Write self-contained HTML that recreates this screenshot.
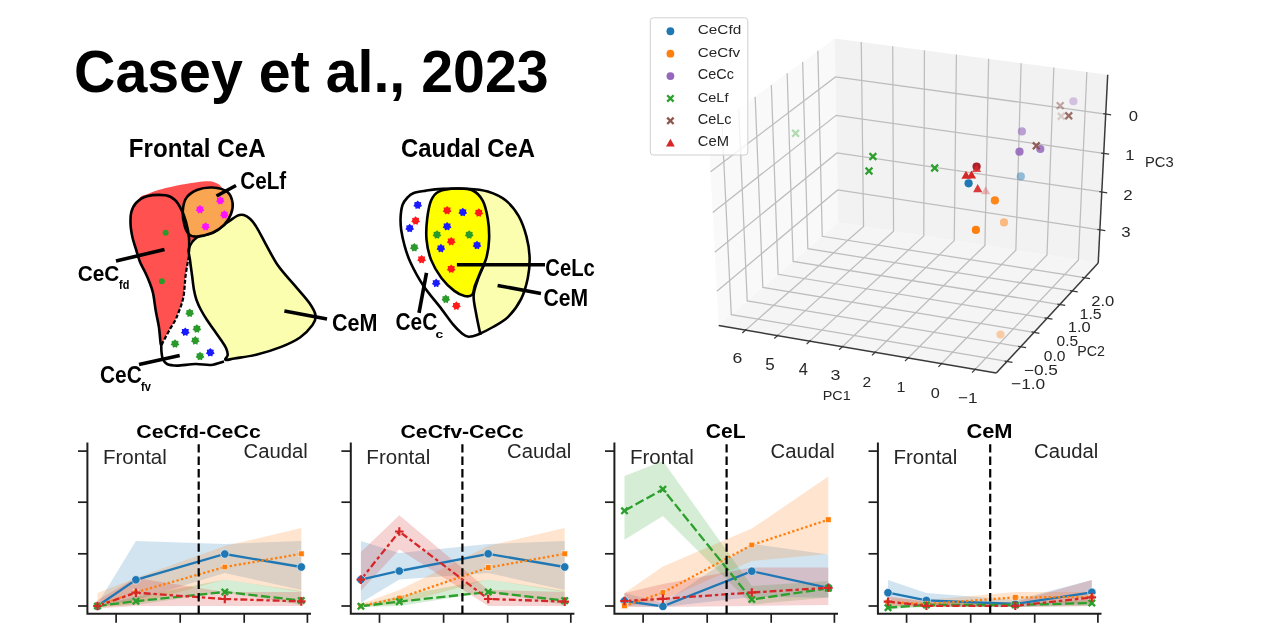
<!DOCTYPE html>
<html><head><meta charset="utf-8"><style>
html,body{margin:0;padding:0;background:#fff;width:1280px;height:640px;overflow:hidden}
#t{will-change:transform;position:absolute;left:74.2px;top:42.2px;font:bold 57.3px/1 "Liberation Sans",sans-serif;white-space:nowrap;transform:scaleY(1.0375);transform-origin:0 0;color:#000}
svg{position:absolute;left:0;top:0;will-change:transform}
svg text{font-family:"Liberation Sans",sans-serif}
</style></head><body>
<div id="t">Casey et al., 2023</div>
<svg width="1280" height="640" viewBox="0 0 1280 640">
<path d="M138.0,203.0 C138.0,195.2 143.8,195.8 150.0,193.0 C156.2,190.2 166.2,187.9 175.0,186.0 C183.8,184.1 196.3,182.1 203.0,181.5 C209.7,180.9 211.8,181.4 215.0,182.5 C218.2,183.6 220.2,185.1 222.0,188.0 C223.8,190.9 229.7,191.7 226.0,200.0 C222.3,208.3 212.7,231.3 200.0,238.0 C187.3,244.7 160.3,245.8 150.0,240.0 C139.7,234.2 138.0,210.8 138.0,203.0 Z" fill="#FE5150"/>
<path d="M161.2,350.0 C160.6,350.5 160.9,346.3 160.5,342.5 C160.1,338.7 159.7,332.2 158.9,327.0 C158.1,321.8 156.8,316.7 155.8,311.0 C154.8,305.3 154.1,298.0 153.0,293.0 C151.9,288.0 150.3,284.5 149.0,281.0 C147.7,277.5 146.5,275.2 145.0,272.0 C143.5,268.8 141.5,265.7 140.0,262.0 C138.5,258.3 137.5,254.1 136.2,250.0 C135.0,245.9 133.4,241.7 132.5,237.5 C131.6,233.3 130.8,229.2 130.6,225.0 C130.4,220.8 130.3,216.2 131.2,212.5 C132.2,208.8 133.4,205.7 136.0,203.0 C138.6,200.3 142.0,197.5 146.9,196.2 C151.8,195.0 160.9,194.7 165.6,195.3 C170.3,195.9 172.4,197.7 175.0,200.0 C177.6,202.3 179.4,205.8 181.2,209.4 C183.1,213.1 184.7,217.2 186.0,221.9 C187.3,226.6 188.5,231.8 189.0,237.5 C189.5,243.2 189.3,251.4 189.0,256.0 C188.7,260.6 187.8,261.8 187.2,265.3 C186.6,268.9 185.8,273.9 185.4,277.3 C185.0,280.8 185.0,282.9 184.7,286.0 C184.4,289.1 184.1,292.9 183.6,296.0 C183.1,299.1 182.3,301.8 181.4,304.7 C180.5,307.6 179.1,310.9 178.1,313.5 C177.1,316.1 176.8,317.4 175.4,320.0 C174.1,322.6 171.8,325.8 170.0,329.0 C168.2,332.2 165.9,335.9 164.4,339.4 C162.9,342.9 161.9,349.5 161.2,350.0 Z" fill="#FE5150"/>
<path d="M161.2,345.6 C160.8,347.7 161.2,349.8 161.5,352.0 C161.8,354.2 161.9,357.0 162.8,359.0 C163.7,361.0 164.7,362.9 167.0,364.0 C169.3,365.1 172.1,365.6 176.9,365.6 C181.7,365.6 189.9,364.1 195.6,364.0 C201.3,363.9 206.3,365.5 211.0,365.0 C215.7,364.5 221.0,362.9 223.8,361.2 C226.5,359.6 227.3,357.2 227.7,355.0 C228.1,352.8 227.1,350.5 226.0,348.0 C224.9,345.5 223.0,343.0 221.0,340.0 C219.0,337.0 216.3,333.3 214.0,330.0 C211.7,326.7 209.2,323.3 207.0,320.0 C204.8,316.7 202.8,313.3 201.0,310.0 C199.2,306.7 197.7,303.3 196.5,300.0 C195.3,296.7 194.8,294.2 194.0,290.0 C193.2,285.8 192.7,280.0 192.0,275.0 C191.3,270.0 190.5,263.2 190.0,260.0 C189.5,256.8 189.5,255.1 189.0,256.0 C188.5,256.9 187.8,261.8 187.2,265.3 C186.6,268.9 185.8,273.9 185.4,277.3 C185.0,280.8 185.0,282.9 184.7,286.0 C184.4,289.1 184.1,292.9 183.6,296.0 C183.1,299.1 182.3,301.8 181.4,304.7 C180.5,307.6 179.1,310.9 178.1,313.5 C177.1,316.1 176.8,317.4 175.4,320.0 C174.1,322.6 171.8,325.8 170.0,329.0 C168.2,332.2 165.9,336.6 164.4,339.4 C162.9,342.2 161.7,343.5 161.2,345.6 Z" fill="#fff"/>
<path d="M189.0,248.4 C190.2,244.7 193.0,240.1 196.9,237.5 C200.8,234.9 207.3,235.4 212.5,232.8 C217.7,230.2 223.8,224.9 228.0,222.0 C232.2,219.1 234.9,216.8 237.5,215.6 C240.1,214.4 241.7,214.5 243.8,215.0 C245.8,215.5 247.9,216.8 250.0,218.8 C252.1,220.7 253.7,222.4 256.2,226.6 C258.9,230.8 262.0,237.2 265.6,243.8 C269.2,250.2 273.3,258.8 278.0,265.6 C282.7,272.4 288.5,278.2 293.8,284.4 C299.0,290.6 305.8,297.8 309.4,303.0 C313.0,308.2 315.1,311.9 315.6,315.6 C316.1,319.3 315.1,321.4 312.5,325.0 C309.9,328.6 305.2,333.9 300.0,337.5 C294.8,341.1 288.5,344.0 281.2,346.9 C274.0,349.8 264.1,352.8 256.2,354.7 C248.4,356.6 239.5,357.6 234.4,358.5 C229.3,359.4 226.6,360.4 225.5,359.8 C224.4,359.2 227.6,357.0 227.7,355.0 C227.8,353.0 227.1,350.5 226.0,348.0 C224.9,345.5 223.0,343.0 221.0,340.0 C219.0,337.0 216.3,333.3 214.0,330.0 C211.7,326.7 209.2,323.3 207.0,320.0 C204.8,316.7 202.8,313.3 201.0,310.0 C199.2,306.7 197.7,303.3 196.5,300.0 C195.3,296.7 194.8,294.2 194.0,290.0 C193.2,285.8 192.7,280.0 192.0,275.0 C191.3,270.0 190.5,264.4 190.0,260.0 C189.5,255.6 187.8,252.2 189.0,248.4 Z" fill="#FAFEAE" stroke="#000" stroke-width="2.6"/>
<path d="M182.8,211.0 C183.1,206.6 183.7,201.9 186.0,198.4 C188.3,194.9 192.5,191.8 196.9,190.0 C201.3,188.2 207.4,187.2 212.5,187.5 C217.6,187.8 224.2,189.4 227.5,192.0 C230.8,194.6 232.0,199.3 232.6,203.0 C233.2,206.7 232.4,210.3 231.0,214.0 C229.6,217.7 227.1,221.9 224.0,225.0 C220.9,228.1 217.0,230.9 212.5,232.8 C208.0,234.7 200.8,236.3 196.9,236.6 C193.0,236.9 191.1,236.3 189.0,234.4 C186.9,232.5 185.4,228.9 184.4,225.0 C183.4,221.1 182.5,215.4 182.8,211.0 Z" fill="#F9A552" stroke="#000" stroke-width="2.6"/>
<path d="M224.0,361.5 C221.8,362.1 215.7,364.6 211.0,365.0 C206.3,365.4 201.3,363.9 195.6,364.0 C189.9,364.1 181.7,365.6 176.9,365.6 C172.1,365.6 169.3,365.1 167.0,364.0 C164.7,362.9 163.7,361.0 162.8,359.0 C161.9,357.0 161.8,354.2 161.5,352.0 C161.2,349.8 161.4,347.2 161.2,345.6 C161.1,344.0 160.9,345.6 160.5,342.5 C160.1,339.4 159.7,332.2 158.9,327.0 C158.1,321.8 156.8,316.7 155.8,311.0 C154.8,305.3 154.1,298.0 153.0,293.0 C151.9,288.0 150.3,284.5 149.0,281.0 C147.7,277.5 146.5,275.2 145.0,272.0 C143.5,268.8 141.5,265.7 140.0,262.0 C138.5,258.3 137.5,254.1 136.2,250.0 C135.0,245.9 133.4,241.7 132.5,237.5 C131.6,233.3 130.8,229.2 130.6,225.0 C130.4,220.8 130.3,216.2 131.2,212.5 C132.2,208.8 133.4,205.7 136.0,203.0 C138.6,200.3 142.0,197.5 146.9,196.2 C151.8,195.0 160.9,194.7 165.6,195.3 C170.3,195.9 172.4,197.7 175.0,200.0 C177.6,202.3 179.4,205.8 181.2,209.4 C183.1,213.1 184.7,217.2 186.0,221.9 C187.3,226.6 188.5,232.5 189.0,237.5 C189.5,242.5 189.0,249.6 189.0,252.0" fill="none" stroke="#000" stroke-width="2.6"/>
<path d="M189.0,256.0 C188.7,257.6 187.8,261.8 187.2,265.3 C186.6,268.9 185.8,273.9 185.4,277.3 C185.0,280.8 185.0,282.9 184.7,286.0 C184.4,289.1 184.1,292.9 183.6,296.0 C183.1,299.1 182.3,301.8 181.4,304.7 C180.5,307.6 179.1,310.9 178.1,313.5 C177.1,316.1 176.8,317.4 175.4,320.0 C174.1,322.6 171.8,325.8 170.0,329.0 C168.2,332.2 165.9,336.6 164.4,339.4 C162.9,342.2 161.8,344.6 161.2,345.6" fill="none" stroke="#000" stroke-width="2.2" stroke-dasharray="4.2,1.8"/>
<circle cx="165.6" cy="232.8" r="3" fill="#2a9a2a"/>
<circle cx="161.9" cy="281.25" r="3" fill="#2a9a2a"/>
<polygon points="200.0,205.0 201.4,206.5 203.4,206.7 203.1,208.7 204.3,210.4 202.5,211.4 201.9,213.4 200.0,212.6 198.1,213.4 197.5,211.4 195.7,210.4 196.9,208.7 196.6,206.7 198.6,206.5" fill="#ff10ff"/>
<polygon points="220.3,196.2 221.7,197.7 223.7,197.9 223.4,199.9 224.6,201.6 222.8,202.6 222.2,204.6 220.3,203.8 218.4,204.6 217.8,202.6 216.0,201.6 217.2,199.9 216.9,197.9 218.9,197.7" fill="#ff10ff"/>
<polygon points="224.4,210.3 225.8,211.8 227.8,212.0 227.5,214.0 228.7,215.7 226.9,216.7 226.3,218.7 224.4,217.9 222.5,218.7 221.9,216.7 220.1,215.7 221.3,214.0 221.0,212.0 223.0,211.8" fill="#ff10ff"/>
<polygon points="205.6,222.2 207.0,223.7 209.0,223.9 208.7,225.9 209.9,227.6 208.1,228.6 207.5,230.6 205.6,229.8 203.7,230.6 203.1,228.6 201.3,227.6 202.5,225.9 202.2,223.9 204.2,223.7" fill="#ff10ff"/>
<polygon points="189.7,308.5 191.1,310.1 193.2,310.2 192.9,312.3 194.1,314.0 192.2,315.0 191.7,317.1 189.7,316.2 187.7,317.1 187.2,315.0 185.3,314.0 186.5,312.3 186.2,310.2 188.3,310.1" fill="#2a9a2a"/>
<polygon points="196.9,324.2 198.3,325.8 200.4,325.9 200.1,328.0 201.3,329.8 199.4,330.8 198.9,332.8 196.9,332.0 194.9,332.8 194.4,330.8 192.5,329.8 193.7,328.0 193.4,325.9 195.5,325.8" fill="#2a9a2a"/>
<polygon points="185.3,327.4 186.7,329.0 188.8,329.1 188.5,331.2 189.7,332.9 187.8,333.9 187.3,336.0 185.3,335.1 183.3,336.0 182.8,333.9 180.9,332.9 182.1,331.2 181.8,329.1 183.9,329.0" fill="#1a1aff"/>
<polygon points="195.3,336.1 196.7,337.7 198.8,337.8 198.5,339.9 199.7,341.6 197.8,342.6 197.3,344.7 195.3,343.8 193.3,344.7 192.8,342.6 190.9,341.6 192.1,339.9 191.8,337.8 193.9,337.7" fill="#2a9a2a"/>
<polygon points="175.0,339.2 176.4,340.8 178.5,340.9 178.2,343.0 179.4,344.8 177.5,345.8 177.0,347.8 175.0,347.0 173.0,347.8 172.5,345.8 170.6,344.8 171.8,343.0 171.5,340.9 173.6,340.8" fill="#2a9a2a"/>
<polygon points="210.3,348.0 211.7,349.6 213.8,349.7 213.5,351.8 214.7,353.5 212.8,354.5 212.3,356.6 210.3,355.7 208.3,356.6 207.8,354.5 205.9,353.5 207.1,351.8 206.8,349.7 208.9,349.6" fill="#1a1aff"/>
<polygon points="200.0,351.8 201.4,353.3 203.5,353.4 203.2,355.5 204.4,357.3 202.5,358.3 202.0,360.3 200.0,359.5 198.0,360.3 197.5,358.3 195.6,357.3 196.8,355.5 196.5,353.4 198.6,353.3" fill="#2a9a2a"/>
<line x1="216.5" y1="196" x2="236" y2="185.5" stroke="#000" stroke-width="3.6"/>
<line x1="116" y1="261" x2="164.5" y2="249.5" stroke="#000" stroke-width="3.6"/>
<line x1="139" y1="364.5" x2="179.7" y2="355.6" stroke="#000" stroke-width="3.6"/>
<line x1="284.4" y1="311" x2="327" y2="319" stroke="#000" stroke-width="3.6"/>
<text transform="translate(128.73,157.00) scale(0.9625,1)" font-size="25.10" font-weight="bold" fill="#000" >Frontal CeA</text>
<text transform="translate(240.37,188.80) scale(0.8803,1)" font-size="23.45" font-weight="bold" fill="#000" >CeLf</text>
<text transform="translate(77.77,280.50) scale(0.9089,1)" font-size="22.86" font-weight="bold" fill="#000" >CeC</text>
<text transform="translate(119.04,288.70) scale(0.9056,1)" font-size="12.00" font-weight="bold" fill="#000" >fd</text>
<text transform="translate(100.07,382.50) scale(0.8983,1)" font-size="23.21" font-weight="bold" fill="#000" >CeC</text>
<text transform="translate(141.08,390.60) scale(0.9243,1)" font-size="12.00" font-weight="bold" fill="#000" >fv</text>
<text transform="translate(331.94,330.70) scale(0.8769,1)" font-size="24.57" font-weight="bold" fill="#000" >CeM</text>
<path d="M402.5,205.0 C403.6,201.7 405.6,199.5 407.5,197.5 C409.4,195.5 410.6,194.2 413.8,193.0 C416.9,191.8 421.5,191.3 426.2,190.6 C431.0,189.9 435.7,189.2 442.5,188.9 C449.3,188.6 459.6,188.4 467.2,188.8 C474.8,189.2 481.4,189.6 487.8,191.6 C494.2,193.6 500.8,196.5 505.9,200.6 C511.0,204.7 515.3,210.1 518.7,216.1 C522.1,222.1 524.7,229.8 526.5,236.7 C528.3,243.6 529.4,250.4 529.6,257.3 C529.8,264.2 529.2,271.1 527.8,278.0 C526.4,284.9 524.5,292.2 521.3,298.6 C518.1,305.0 513.1,311.9 508.4,316.6 C503.7,321.3 498.1,324.0 493.0,327.0 C487.9,330.0 481.6,333.1 477.5,334.7 C473.4,336.3 471.1,336.9 468.5,336.7 C465.9,336.5 464.6,335.4 462.0,333.4 C459.4,331.3 456.4,328.5 453.0,324.4 C449.6,320.3 446.3,315.3 441.4,308.9 C436.5,302.4 428.5,293.4 423.4,285.7 C418.2,278.0 413.7,269.3 410.5,262.5 C407.3,255.7 405.9,250.4 404.4,245.0 C402.9,239.6 401.9,234.6 401.2,230.0 C400.6,225.4 400.4,221.7 400.6,217.5 C400.8,213.3 401.4,208.3 402.5,205.0 Z" fill="#fff"/>
<clipPath id="cclip"><path d="M402.5,205.0 C403.6,201.7 405.6,199.5 407.5,197.5 C409.4,195.5 410.6,194.2 413.8,193.0 C416.9,191.8 421.5,191.3 426.2,190.6 C431.0,189.9 435.7,189.2 442.5,188.9 C449.3,188.6 459.6,188.4 467.2,188.8 C474.8,189.2 481.4,189.6 487.8,191.6 C494.2,193.6 500.8,196.5 505.9,200.6 C511.0,204.7 515.3,210.1 518.7,216.1 C522.1,222.1 524.7,229.8 526.5,236.7 C528.3,243.6 529.4,250.4 529.6,257.3 C529.8,264.2 529.2,271.1 527.8,278.0 C526.4,284.9 524.5,292.2 521.3,298.6 C518.1,305.0 513.1,311.9 508.4,316.6 C503.7,321.3 498.1,324.0 493.0,327.0 C487.9,330.0 481.6,333.1 477.5,334.7 C473.4,336.3 471.1,336.9 468.5,336.7 C465.9,336.5 464.6,335.4 462.0,333.4 C459.4,331.3 456.4,328.5 453.0,324.4 C449.6,320.3 446.3,315.3 441.4,308.9 C436.5,302.4 428.5,293.4 423.4,285.7 C418.2,278.0 413.7,269.3 410.5,262.5 C407.3,255.7 405.9,250.4 404.4,245.0 C402.9,239.6 401.9,234.6 401.2,230.0 C400.6,225.4 400.4,221.7 400.6,217.5 C400.8,213.3 401.4,208.3 402.5,205.0 Z"/></clipPath>
<path d="M470.0,185.0 C480.0,182.5 528.3,158.3 540.0,185.0 C551.7,211.7 550.0,318.3 540.0,345.0 C530.0,371.7 490.1,346.9 480.1,345.0 C470.1,343.1 480.8,338.6 480.1,333.4 C479.5,328.2 477.3,320.2 476.2,314.0 C475.1,307.8 473.4,301.6 473.6,296.0 C473.8,290.4 475.8,285.7 477.5,280.5 C479.2,275.3 482.3,271.0 484.0,265.0 C485.7,259.0 488.5,255.3 487.8,244.5 C487.1,233.7 483.0,209.9 480.0,200.0 C477.0,190.1 460.0,187.5 470.0,185.0 Z" fill="#FAFEAE" clip-path="url(#cclip)"/>
<path d="M480.5,335.0 C479.8,331.5 477.3,320.5 476.2,314.0 C475.1,307.5 473.4,301.6 473.6,296.0 C473.8,290.4 475.8,285.7 477.5,280.5 C479.2,275.3 482.9,267.6 484.0,265.0" fill="none" stroke="#000" stroke-width="2.6"/>
<path d="M438.8,191.6 C443.1,189.6 451.3,188.7 456.9,188.5 C462.5,188.3 468.0,188.3 472.3,190.3 C476.6,192.3 480.1,195.9 482.7,200.6 C485.3,205.3 486.7,212.2 487.8,218.7 C488.9,225.1 489.3,232.9 489.1,239.3 C488.9,245.7 488.0,251.7 486.5,257.3 C485.0,262.9 482.0,268.1 480.1,272.8 C478.2,277.5 476.2,282.1 474.9,285.7 C473.6,289.3 474.0,293.0 472.3,294.7 C470.6,296.4 467.6,296.6 464.6,296.0 C461.6,295.4 458.2,293.9 454.3,290.9 C450.4,287.9 445.3,283.2 441.4,278.0 C437.5,272.8 433.6,266.3 431.1,259.9 C428.6,253.4 427.1,246.2 426.5,239.3 C425.9,232.4 426.4,225.1 427.2,218.7 C428.0,212.2 429.2,205.1 431.1,200.6 C433.0,196.1 434.5,193.6 438.8,191.6 Z" fill="#FFFF00" stroke="#000" stroke-width="2.6"/>
<path d="M402.5,205.0 C403.6,201.7 405.6,199.5 407.5,197.5 C409.4,195.5 410.6,194.2 413.8,193.0 C416.9,191.8 421.5,191.3 426.2,190.6 C431.0,189.9 435.7,189.2 442.5,188.9 C449.3,188.6 459.6,188.4 467.2,188.8 C474.8,189.2 481.4,189.6 487.8,191.6 C494.2,193.6 500.8,196.5 505.9,200.6 C511.0,204.7 515.3,210.1 518.7,216.1 C522.1,222.1 524.7,229.8 526.5,236.7 C528.3,243.6 529.4,250.4 529.6,257.3 C529.8,264.2 529.2,271.1 527.8,278.0 C526.4,284.9 524.5,292.2 521.3,298.6 C518.1,305.0 513.1,311.9 508.4,316.6 C503.7,321.3 498.1,324.0 493.0,327.0 C487.9,330.0 481.6,333.1 477.5,334.7 C473.4,336.3 471.1,336.9 468.5,336.7 C465.9,336.5 464.6,335.4 462.0,333.4 C459.4,331.3 456.4,328.5 453.0,324.4 C449.6,320.3 446.3,315.3 441.4,308.9 C436.5,302.4 428.5,293.4 423.4,285.7 C418.2,278.0 413.7,269.3 410.5,262.5 C407.3,255.7 405.9,250.4 404.4,245.0 C402.9,239.6 401.9,234.6 401.2,230.0 C400.6,225.4 400.4,221.7 400.6,217.5 C400.8,213.3 401.4,208.3 402.5,205.0 Z" fill="none" stroke="#000" stroke-width="2.6"/>
<polygon points="417.7,200.5 419.1,202.1 421.2,202.2 420.9,204.3 422.1,206.0 420.2,207.0 419.7,209.1 417.7,208.2 415.7,209.1 415.2,207.0 413.3,206.0 414.5,204.3 414.2,202.2 416.3,202.1" fill="#1a1aff"/>
<polygon points="415.6,216.2 417.0,217.8 419.1,217.9 418.8,220.0 420.0,221.7 418.1,222.7 417.6,224.8 415.6,223.9 413.6,224.8 413.1,222.7 411.2,221.7 412.4,220.0 412.1,217.9 414.2,217.8" fill="#ff1a1a"/>
<polygon points="409.7,223.7 411.1,225.3 413.2,225.4 412.9,227.5 414.1,229.2 412.2,230.2 411.7,232.3 409.7,231.4 407.7,232.3 407.2,230.2 405.3,229.2 406.5,227.5 406.2,225.4 408.3,225.3" fill="#1a1aff"/>
<polygon points="414.3,243.0 415.7,244.6 417.8,244.7 417.5,246.8 418.7,248.5 416.8,249.5 416.3,251.6 414.3,250.7 412.3,251.6 411.8,249.5 409.9,248.5 411.1,246.8 410.8,244.7 412.9,244.6" fill="#2a9a2a"/>
<polygon points="421.6,254.9 423.0,256.5 425.1,256.6 424.8,258.7 426.0,260.4 424.1,261.4 423.6,263.5 421.6,262.6 419.6,263.5 419.1,261.4 417.2,260.4 418.4,258.7 418.1,256.6 420.2,256.5" fill="#ff1a1a"/>
<polygon points="436.2,278.6 437.6,280.2 439.7,280.3 439.4,282.4 440.6,284.1 438.7,285.1 438.2,287.2 436.2,286.3 434.2,287.2 433.7,285.1 431.8,284.1 433.0,282.4 432.7,280.3 434.8,280.2" fill="#1a1aff"/>
<polygon points="445.8,294.6 447.2,296.2 449.3,296.3 449.0,298.4 450.2,300.1 448.3,301.1 447.8,303.2 445.8,302.3 443.8,303.2 443.3,301.1 441.4,300.1 442.6,298.4 442.3,296.3 444.4,296.2" fill="#2a9a2a"/>
<polygon points="456.4,301.3 457.8,302.9 459.9,303.0 459.6,305.1 460.8,306.8 458.9,307.8 458.4,309.9 456.4,309.0 454.4,309.9 453.9,307.8 452.0,306.8 453.2,305.1 452.9,303.0 455.0,302.9" fill="#ff1a1a"/>
<polygon points="447.1,205.9 448.5,207.5 450.6,207.6 450.3,209.7 451.5,211.4 449.6,212.4 449.1,214.5 447.1,213.6 445.1,214.5 444.6,212.4 442.7,211.4 443.9,209.7 443.6,207.6 445.7,207.5" fill="#ff1a1a"/>
<polygon points="462.8,207.7 464.2,209.3 466.3,209.4 466.0,211.5 467.2,213.2 465.3,214.2 464.8,216.3 462.8,215.4 460.8,216.3 460.3,214.2 458.4,213.2 459.6,211.5 459.3,209.4 461.4,209.3" fill="#1a1aff"/>
<polygon points="478.8,208.2 480.2,209.8 482.3,209.9 482.0,212.0 483.2,213.7 481.3,214.7 480.8,216.8 478.8,215.9 476.8,216.8 476.3,214.7 474.4,213.7 475.6,212.0 475.3,209.9 477.4,209.8" fill="#ff1a1a"/>
<polygon points="447.1,221.9 448.5,223.5 450.6,223.6 450.3,225.7 451.5,227.4 449.6,228.4 449.1,230.5 447.1,229.6 445.1,230.5 444.6,228.4 442.7,227.4 443.9,225.7 443.6,223.6 445.7,223.5" fill="#1a1aff"/>
<polygon points="437.0,230.2 438.4,231.8 440.5,231.9 440.2,234.0 441.4,235.7 439.5,236.7 439.0,238.8 437.0,237.9 435.0,238.8 434.5,236.7 432.6,235.7 433.8,234.0 433.5,231.9 435.6,231.8" fill="#2a9a2a"/>
<polygon points="469.2,230.2 470.6,231.8 472.7,231.9 472.4,234.0 473.6,235.7 471.7,236.7 471.2,238.8 469.2,237.9 467.2,238.8 466.7,236.7 464.8,235.7 466.0,234.0 465.7,231.9 467.8,231.8" fill="#2a9a2a"/>
<polygon points="451.2,236.9 452.6,238.5 454.7,238.6 454.4,240.7 455.6,242.4 453.7,243.4 453.2,245.5 451.2,244.6 449.2,245.5 448.7,243.4 446.8,242.4 448.0,240.7 447.7,238.6 449.8,238.5" fill="#ff1a1a"/>
<polygon points="440.9,243.8 442.3,245.4 444.4,245.5 444.1,247.6 445.3,249.3 443.4,250.3 442.9,252.4 440.9,251.5 438.9,252.4 438.4,250.3 436.5,249.3 437.7,247.6 437.4,245.5 439.5,245.4" fill="#1a1aff"/>
<polygon points="477.0,240.7 478.4,242.3 480.5,242.4 480.2,244.5 481.4,246.2 479.5,247.2 479.0,249.3 477.0,248.4 475.0,249.3 474.5,247.2 472.6,246.2 473.8,244.5 473.5,242.4 475.6,242.3" fill="#1a1aff"/>
<polygon points="451.2,264.4 452.6,266.0 454.7,266.1 454.4,268.2 455.6,269.9 453.7,270.9 453.2,273.0 451.2,272.1 449.2,273.0 448.7,270.9 446.8,269.9 448.0,268.2 447.7,266.1 449.8,266.0" fill="#ff1a1a"/>
<line x1="456.9" y1="264.8" x2="545" y2="264.8" stroke="#000" stroke-width="3.6"/>
<line x1="497.6" y1="285.5" x2="541" y2="293.5" stroke="#000" stroke-width="3.6"/>
<line x1="426.5" y1="272.8" x2="419" y2="312.8" stroke="#000" stroke-width="3.6"/>
<text transform="translate(401.04,157.00) scale(0.9519,1)" font-size="25.10" font-weight="bold" fill="#000" >Caudal CeA</text>
<text transform="translate(545.29,275.50) scale(0.8805,1)" font-size="23.00" font-weight="bold" fill="#000" >CeLc</text>
<text transform="translate(543.55,306.20) scale(0.9194,1)" font-size="23.00" font-weight="bold" fill="#000" >CeM</text>
<text transform="translate(395.46,330.20) scale(0.8858,1)" font-size="23.57" font-weight="bold" fill="#000" >CeC</text>
<text transform="translate(435.45,338.30) scale(1.1841,1)" font-size="11.67" font-weight="bold" fill="#000" >c</text>
<polygon points="708.44,131.11 834.73,38.44 838.28,222.51 718.66,325.49" fill="#f9f9f9"/>
<polygon points="834.73,38.44 1107.71,74.68 1098.21,263.02 838.28,222.51" fill="#f2f2f2"/>
<polygon points="718.66,325.49 838.28,222.51 1098.21,263.02 996.28,373.08" fill="#f5f5f5"/>
<polyline points="1086.87,71.92 1078.39,259.94 975.06,369.45" fill="none" stroke="#bdbdbd" stroke-width="1.25"/>
<polyline points="1053.86,67.53 1046.99,255.04 941.46,363.69" fill="none" stroke="#bdbdbd" stroke-width="1.25"/>
<polyline points="1021.11,63.19 1015.84,250.18 908.14,357.98" fill="none" stroke="#bdbdbd" stroke-width="1.25"/>
<polyline points="988.63,58.87 984.92,245.37 875.10,352.31" fill="none" stroke="#bdbdbd" stroke-width="1.25"/>
<polyline points="956.41,54.60 954.24,240.58 842.33,346.69" fill="none" stroke="#bdbdbd" stroke-width="1.25"/>
<polyline points="924.44,50.35 923.79,235.84 809.82,341.12" fill="none" stroke="#bdbdbd" stroke-width="1.25"/>
<polyline points="892.72,46.14 893.56,231.12 777.59,335.59" fill="none" stroke="#bdbdbd" stroke-width="1.25"/>
<polyline points="861.25,41.96 863.57,226.45 745.61,330.11" fill="none" stroke="#bdbdbd" stroke-width="1.25"/>
<polyline points="721.82,121.29 731.29,314.62 1007.06,361.44" fill="none" stroke="#bdbdbd" stroke-width="1.25"/>
<polyline points="738.68,108.92 747.21,300.91 1020.66,346.76" fill="none" stroke="#bdbdbd" stroke-width="1.25"/>
<polyline points="755.18,96.81 762.82,287.47 1033.97,332.38" fill="none" stroke="#bdbdbd" stroke-width="1.25"/>
<polyline points="771.34,84.95 778.12,274.30 1047.01,318.30" fill="none" stroke="#bdbdbd" stroke-width="1.25"/>
<polyline points="787.17,73.34 793.11,261.39 1059.79,304.51" fill="none" stroke="#bdbdbd" stroke-width="1.25"/>
<polyline points="802.67,61.97 807.82,248.73 1072.31,290.99" fill="none" stroke="#bdbdbd" stroke-width="1.25"/>
<polyline points="817.86,50.82 822.24,236.31 1084.58,277.74" fill="none" stroke="#bdbdbd" stroke-width="1.25"/>
<polyline points="710.58,171.83 835.47,76.88 1105.72,114.07" fill="none" stroke="#bdbdbd" stroke-width="1.25"/>
<polyline points="712.72,212.48 836.21,115.31 1103.74,153.42" fill="none" stroke="#bdbdbd" stroke-width="1.25"/>
<polyline points="714.81,252.27 836.94,153.00 1101.79,191.97" fill="none" stroke="#bdbdbd" stroke-width="1.25"/>
<polyline points="716.86,291.23 837.65,189.95 1099.89,229.76" fill="none" stroke="#bdbdbd" stroke-width="1.25"/>
<line x1="718.66" y1="325.49" x2="996.28" y2="373.08" stroke="#3a3a3a" stroke-width="1.5"/>
<line x1="996.28" y1="373.08" x2="1098.21" y2="263.02" stroke="#3a3a3a" stroke-width="1.5"/>
<line x1="1098.21" y1="263.02" x2="1107.71" y2="74.68" stroke="#3a3a3a" stroke-width="1.5"/>
<line x1="975.88" y1="368.57" x2="972.04" y2="372.65" stroke="#3a3a3a" stroke-width="1.25"/>
<line x1="942.30" y1="362.83" x2="938.40" y2="366.84" stroke="#3a3a3a" stroke-width="1.25"/>
<line x1="908.99" y1="357.13" x2="905.03" y2="361.09" stroke="#3a3a3a" stroke-width="1.25"/>
<line x1="875.96" y1="351.47" x2="871.95" y2="355.38" stroke="#3a3a3a" stroke-width="1.25"/>
<line x1="843.20" y1="345.87" x2="839.14" y2="349.72" stroke="#3a3a3a" stroke-width="1.25"/>
<line x1="810.71" y1="340.31" x2="806.59" y2="344.11" stroke="#3a3a3a" stroke-width="1.25"/>
<line x1="778.48" y1="334.79" x2="774.32" y2="338.54" stroke="#3a3a3a" stroke-width="1.25"/>
<line x1="746.51" y1="329.32" x2="742.30" y2="333.02" stroke="#3a3a3a" stroke-width="1.25"/>
<line x1="1004.60" y1="361.02" x2="1012.49" y2="362.36" stroke="#3a3a3a" stroke-width="1.25"/>
<line x1="1018.19" y1="346.35" x2="1026.08" y2="347.67" stroke="#3a3a3a" stroke-width="1.25"/>
<line x1="1031.51" y1="331.98" x2="1039.40" y2="333.28" stroke="#3a3a3a" stroke-width="1.25"/>
<line x1="1044.54" y1="317.90" x2="1052.44" y2="319.19" stroke="#3a3a3a" stroke-width="1.25"/>
<line x1="1057.32" y1="304.11" x2="1065.22" y2="305.39" stroke="#3a3a3a" stroke-width="1.25"/>
<line x1="1069.84" y1="290.60" x2="1077.74" y2="291.86" stroke="#3a3a3a" stroke-width="1.25"/>
<line x1="1082.11" y1="277.35" x2="1090.01" y2="278.60" stroke="#3a3a3a" stroke-width="1.25"/>
<line x1="1103.25" y1="113.73" x2="1111.17" y2="114.82" stroke="#3a3a3a" stroke-width="1.25"/>
<line x1="1101.26" y1="153.06" x2="1109.18" y2="154.19" stroke="#3a3a3a" stroke-width="1.25"/>
<line x1="1099.32" y1="191.61" x2="1107.23" y2="192.77" stroke="#3a3a3a" stroke-width="1.25"/>
<line x1="1097.41" y1="229.38" x2="1105.32" y2="230.58" stroke="#3a3a3a" stroke-width="1.25"/>
<text transform="translate(732.52,363.20) scale(1.1869,1)" font-size="14.86" font-weight="normal" fill="#262626" >6</text>
<text transform="translate(765.32,369.70) scale(1.0506,1)" font-size="16.23" font-weight="normal" fill="#262626" >5</text>
<text transform="translate(798.67,374.80) scale(1.0501,1)" font-size="15.65" font-weight="normal" fill="#262626" >4</text>
<text transform="translate(830.58,380.40) scale(1.1707,1)" font-size="15.29" font-weight="normal" fill="#262626" >3</text>
<text transform="translate(862.62,386.60) scale(1.0709,1)" font-size="14.57" font-weight="normal" fill="#262626" >2</text>
<text transform="translate(896.59,391.60) scale(1.0475,1)" font-size="15.36" font-weight="normal" fill="#262626" >1</text>
<text transform="translate(930.75,398.30) scale(1.1044,1)" font-size="14.71" font-weight="normal" fill="#262626" >0</text>
<text transform="translate(957.89,403.30) scale(1.1288,1)" font-size="15.22" font-weight="normal" fill="#262626" >&#8722;1</text>
<text transform="translate(822.65,399.80) scale(1.0720,1)" font-size="13.43" font-weight="normal" fill="#262626" >PC1</text>
<text transform="translate(1011.03,389.30) scale(1.1353,1)" font-size="15.29" font-weight="normal" fill="#262626" >&#8722;1.0</text>
<text transform="translate(1023.84,374.50) scale(1.2315,1)" font-size="14.00" font-weight="normal" fill="#262626" >&#8722;0.5</text>
<text transform="translate(1043.78,360.60) scale(1.0699,1)" font-size="14.57" font-weight="normal" fill="#262626" >0.0</text>
<text transform="translate(1056.58,345.80) scale(1.1123,1)" font-size="14.00" font-weight="normal" fill="#262626" >0.5</text>
<text transform="translate(1067.77,331.90) scale(1.1600,1)" font-size="14.14" font-weight="normal" fill="#262626" >1.0</text>
<text transform="translate(1079.61,319.20) scale(1.0613,1)" font-size="14.93" font-weight="normal" fill="#262626" >1.5</text>
<text transform="translate(1091.17,305.60) scale(1.0878,1)" font-size="15.29" font-weight="normal" fill="#262626" >2.0</text>
<text transform="translate(1077.36,355.70) scale(1.0051,1)" font-size="14.14" font-weight="normal" fill="#262626" >PC2</text>
<text transform="translate(1128.63,120.80) scale(1.1785,1)" font-size="14.14" font-weight="normal" fill="#262626" >0</text>
<text transform="translate(1125.16,160.20) scale(1.1088,1)" font-size="14.93" font-weight="normal" fill="#262626" >1</text>
<text transform="translate(1123.35,200.00) scale(1.1501,1)" font-size="14.71" font-weight="normal" fill="#262626" >2</text>
<text transform="translate(1121.33,236.70) scale(1.2030,1)" font-size="14.00" font-weight="normal" fill="#262626" >3</text>
<text transform="translate(1144.92,166.70) scale(1.0017,1)" font-size="14.71" font-weight="normal" fill="#262626" >PC3</text>
<path d="M792.2,129.9L799.0,136.70000000000002M792.2,136.70000000000002L799.0,129.9" stroke="#2ca02c" stroke-opacity="0.35" stroke-width="2.2"/>
<circle cx="1073.4" cy="101.25" r="4.1" fill="#9467bd" fill-opacity="0.35"/>
<path d="M1056.8,102.19999999999999L1063.6000000000001,109.0M1056.8,109.0L1063.6000000000001,102.19999999999999" stroke="#8c564b" stroke-opacity="0.5" stroke-width="2.2"/>
<path d="M1057.85,112.85L1064.65,119.65M1057.85,119.65L1064.65,112.85" stroke="#8c564b" stroke-opacity="0.25" stroke-width="2.2"/>
<path d="M1065.35,112.39999999999999L1072.15,119.2M1065.35,119.2L1072.15,112.39999999999999" stroke="#8c564b" stroke-opacity="0.85" stroke-width="2.2"/>
<circle cx="1021.9" cy="131.4" r="4.1" fill="#9467bd" fill-opacity="0.6"/>
<circle cx="1019.5" cy="151.7" r="4.1" fill="#9467bd" fill-opacity="0.9"/>
<circle cx="1040.3" cy="149" r="4.1" fill="#9467bd" fill-opacity="0.85"/>
<path d="M1032.85,142.4L1039.65,149.20000000000002M1032.85,149.20000000000002L1039.65,142.4" stroke="#8c564b" stroke-opacity="0.95" stroke-width="2.2"/>
<circle cx="1020.8" cy="176.4" r="4.1" fill="#1f77b4" fill-opacity="0.45"/>
<path d="M869.5,153.1L876.3,159.9M869.5,159.9L876.3,153.1" stroke="#2ca02c" stroke-opacity="1" stroke-width="2.2"/>
<path d="M865.6,167.6L872.4,174.4M865.6,174.4L872.4,167.6" stroke="#2ca02c" stroke-opacity="1" stroke-width="2.2"/>
<path d="M931.3000000000001,164.6L938.1,171.4M931.3000000000001,171.4L938.1,164.6" stroke="#2ca02c" stroke-opacity="1" stroke-width="2.2"/>
<circle cx="976.6" cy="166.6" r="4.1" fill="#a8202c"/>
<polygon points="976.6,163.9 981.2,171.95 972.0,171.95" fill="#d62728" fill-opacity="0.8"/>
<polygon points="966,170.70000000000002 970.6,178.75 961.4,178.75" fill="#d62728" fill-opacity="1"/>
<polygon points="971.5,170.4 976.1,178.45 966.9,178.45" fill="#d62728" fill-opacity="1"/>
<circle cx="968.6" cy="183.3" r="4.1" fill="#1f77b4" fill-opacity="1"/>
<polygon points="977.7,184.1 982.3000000000001,192.14999999999998 973.1,192.14999999999998" fill="#d62728" fill-opacity="0.9"/>
<polygon points="985.7,186.20000000000002 990.3000000000001,194.25 981.1,194.25" fill="#d62728" fill-opacity="0.3"/>
<circle cx="994.9" cy="200.4" r="4.1" fill="#ff7f0e" fill-opacity="0.95"/>
<circle cx="1004" cy="222.4" r="4.1" fill="#ff7f0e" fill-opacity="0.5"/>
<circle cx="975.9" cy="229.9" r="4.1" fill="#ff7f0e" fill-opacity="1"/>
<circle cx="1000.5" cy="334.5" r="4.1" fill="#ff7f0e" fill-opacity="0.35"/>
<rect x="650.3" y="17.8" width="97.5" height="137.2" rx="3" fill="#fff" fill-opacity="0.8" stroke="#d0d0d0" stroke-width="1"/>
<circle cx="670.4" cy="31.25" r="3.9" fill="#1f77b4" fill-opacity="1"/>
<text transform="translate(697.73,34.40) scale(1.1532,1)" font-size="13.31" font-weight="normal" fill="#262626" >CeCfd</text>
<circle cx="670.4" cy="53.65" r="3.9" fill="#ff7f0e" fill-opacity="1"/>
<text transform="translate(697.74,56.80) scale(1.1442,1)" font-size="13.31" font-weight="normal" fill="#262626" >CeCfv</text>
<circle cx="670.4" cy="76.05" r="3.9" fill="#9467bd" fill-opacity="1"/>
<text transform="translate(697.78,79.20) scale(1.0470,1)" font-size="13.79" font-weight="normal" fill="#262626" >CeCc</text>
<path d="M667.1999999999999,95.24999999999999L673.6,101.64999999999999M667.1999999999999,101.64999999999999L673.6,95.24999999999999" stroke="#2ca02c" stroke-opacity="1" stroke-width="2.3"/>
<text transform="translate(697.77,102.25) scale(1.0915,1)" font-size="13.31" font-weight="normal" fill="#262626" >CeLf</text>
<path d="M667.1999999999999,117.64999999999999L673.6,124.05M667.1999999999999,124.05L673.6,117.64999999999999" stroke="#8c564b" stroke-opacity="1" stroke-width="2.3"/>
<text transform="translate(697.78,124.40) scale(1.0512,1)" font-size="13.79" font-weight="normal" fill="#262626" >CeLc</text>
<polygon points="670.4,138.85 674.8,146.55 666.0,146.55" fill="#d62728" fill-opacity="1"/>
<text transform="translate(697.76,146.25) scale(1.0716,1)" font-size="13.79" font-weight="normal" fill="#262626" >CeM</text>
<polygon points="97.5,604.0 135.9,541.0 224.8,544.0 301.3,541.0 301.3,590.0 224.8,573.0 135.9,600.0 97.5,607.0" fill="#1f77b4" fill-opacity="0.2"/>
<polygon points="97.5,593.0 135.9,578.0 224.8,546.0 301.3,528.0 301.3,592.0 224.8,579.5 135.9,604.0 97.5,607.0" fill="#ff7f0e" fill-opacity="0.2"/>
<polygon points="97.5,605.0 135.9,597.0 224.8,579.5 301.3,591.0 301.3,605.0 224.8,592.0 135.9,605.0 97.5,607.0" fill="#2ca02c" fill-opacity="0.2"/>
<polygon points="97.5,600.0 135.9,578.0 224.8,592.0 301.3,592.0 301.3,606.0 224.8,606.0 135.9,606.0 97.5,608.5" fill="#d62728" fill-opacity="0.2"/>
<polyline points="97.5,606.0 135.9,579.8 224.8,554.0 301.3,567.0" fill="none" stroke="#1f77b4" stroke-width="2.3" />
<polyline points="97.5,605.5 135.9,592.3 224.8,567.0 301.3,553.8" fill="none" stroke="#ff7f0e" stroke-width="2.3" stroke-dasharray="2.3,2.3"/>
<polyline points="97.5,606.0 135.9,601.2 224.8,592.0 301.3,600.5" fill="none" stroke="#2ca02c" stroke-width="2.3" stroke-dasharray="9.2,3.45"/>
<polyline points="97.5,606.0 135.9,592.7 224.8,599.0 301.3,601.4" fill="none" stroke="#d62728" stroke-width="2.3" stroke-dasharray="6.9,2.9,3.45,2.9"/>
<circle cx="97.5" cy="606.0" r="4.2" fill="#1f77b4" stroke="#fff" stroke-width="0.6"/>
<circle cx="135.9" cy="579.8" r="4.2" fill="#1f77b4" stroke="#fff" stroke-width="0.6"/>
<circle cx="224.8" cy="554.0" r="4.2" fill="#1f77b4" stroke="#fff" stroke-width="0.6"/>
<circle cx="301.3" cy="567.0" r="4.2" fill="#1f77b4" stroke="#fff" stroke-width="0.6"/>
<rect x="94.7" y="602.7" width="5.6" height="5.6" fill="#ff7f0e" stroke="#fff" stroke-width="0.5"/>
<rect x="133.1" y="589.5" width="5.6" height="5.6" fill="#ff7f0e" stroke="#fff" stroke-width="0.5"/>
<rect x="222.0" y="564.2" width="5.6" height="5.6" fill="#ff7f0e" stroke="#fff" stroke-width="0.5"/>
<rect x="298.5" y="551.0" width="5.6" height="5.6" fill="#ff7f0e" stroke="#fff" stroke-width="0.5"/>
<path d="M94.3,602.8L100.7,609.2M94.3,609.2L100.7,602.8" stroke="#2ca02c" stroke-width="2.4"/>
<path d="M132.7,598.0L139.1,604.4M132.7,604.4L139.1,598.0" stroke="#2ca02c" stroke-width="2.4"/>
<path d="M221.6,588.8L228.0,595.2M221.6,595.2L228.0,588.8" stroke="#2ca02c" stroke-width="2.4"/>
<path d="M298.1,597.3L304.5,603.7M298.1,603.7L304.5,597.3" stroke="#2ca02c" stroke-width="2.4"/>
<path d="M93.2,606.0L101.8,606.0M97.5,601.7L97.5,610.3" stroke="#d62728" stroke-width="2.2"/>
<path d="M131.6,592.7L140.2,592.7M135.9,588.4L135.9,597.0" stroke="#d62728" stroke-width="2.2"/>
<path d="M220.5,599.0L229.1,599.0M224.8,594.7L224.8,603.3" stroke="#d62728" stroke-width="2.2"/>
<path d="M297.0,601.4L305.6,601.4M301.3,597.1L301.3,605.7" stroke="#d62728" stroke-width="2.2"/>
<path d="M87.4,442.5 L87.4,613.7 L311.0,613.7" fill="none" stroke="#1e1e1e" stroke-width="2.0"/>
<line x1="78.0" y1="451.1" x2="87.4" y2="451.1" stroke="#1e1e1e" stroke-width="1.7"/>
<line x1="78.0" y1="502.2" x2="87.4" y2="502.2" stroke="#1e1e1e" stroke-width="1.7"/>
<line x1="78.0" y1="553.8" x2="87.4" y2="553.8" stroke="#1e1e1e" stroke-width="1.7"/>
<line x1="78.0" y1="606" x2="87.4" y2="606" stroke="#1e1e1e" stroke-width="1.7"/>
<line x1="116.10000000000001" y1="613.7" x2="116.10000000000001" y2="622.8" stroke="#1e1e1e" stroke-width="1.7"/>
<line x1="180.2" y1="613.7" x2="180.2" y2="622.8" stroke="#1e1e1e" stroke-width="1.7"/>
<line x1="244.20000000000002" y1="613.7" x2="244.20000000000002" y2="622.8" stroke="#1e1e1e" stroke-width="1.7"/>
<line x1="307.4" y1="613.7" x2="307.4" y2="622.8" stroke="#1e1e1e" stroke-width="1.7"/>
<line x1="198.7" y1="444.2" x2="198.7" y2="613.5" stroke="#000" stroke-width="2.2" stroke-dasharray="8.4,4"/>
<text transform="translate(136.25,437.90) scale(1.1218,1)" font-size="19.03" font-weight="bold" fill="#000" >CeCfd-CeCc</text>
<text transform="translate(102.96,463.75) scale(1.0377,1)" font-size="19.79" font-weight="normal" fill="#262626" >Frontal</text>
<text transform="translate(243.59,458.40) scale(1.0390,1)" font-size="19.52" font-weight="normal" fill="#262626" >Caudal</text><polygon points="360.9,541.0 399.3,553.0 488.2,544.0 564.7,541.0 564.7,590.0 488.2,573.0 399.3,579.6 360.9,602.8" fill="#1f77b4" fill-opacity="0.2"/>
<polygon points="360.9,604.0 399.3,590.0 488.2,546.0 564.7,528.0 564.7,592.0 488.2,579.5 399.3,604.0 360.9,607.0" fill="#ff7f0e" fill-opacity="0.2"/>
<polygon points="360.9,605.0 399.3,596.0 488.2,579.5 564.7,591.0 564.7,605.0 488.2,592.0 399.3,606.0 360.9,607.0" fill="#2ca02c" fill-opacity="0.2"/>
<polygon points="360.9,552.0 399.3,515.2 488.2,590.0 564.7,592.0 564.7,606.0 488.2,606.0 399.3,549.5 360.9,590.8" fill="#d62728" fill-opacity="0.2"/>
<polyline points="360.9,579.6 399.3,571.0 488.2,553.8 564.7,567.0" fill="none" stroke="#1f77b4" stroke-width="2.3" />
<polyline points="360.9,606.0 399.3,598.0 488.2,567.6 564.7,553.8" fill="none" stroke="#ff7f0e" stroke-width="2.3" stroke-dasharray="2.3,2.3"/>
<polyline points="360.9,606.3 399.3,601.6 488.2,592.0 564.7,600.6" fill="none" stroke="#2ca02c" stroke-width="2.3" stroke-dasharray="9.2,3.45"/>
<polyline points="360.9,579.6 399.3,531.5 488.2,599.0 564.7,601.6" fill="none" stroke="#d62728" stroke-width="2.3" stroke-dasharray="6.9,2.9,3.45,2.9"/>
<circle cx="360.9" cy="579.6" r="4.2" fill="#1f77b4" stroke="#fff" stroke-width="0.6"/>
<circle cx="399.3" cy="571.0" r="4.2" fill="#1f77b4" stroke="#fff" stroke-width="0.6"/>
<circle cx="488.2" cy="553.8" r="4.2" fill="#1f77b4" stroke="#fff" stroke-width="0.6"/>
<circle cx="564.7" cy="567.0" r="4.2" fill="#1f77b4" stroke="#fff" stroke-width="0.6"/>
<rect x="358.1" y="603.2" width="5.6" height="5.6" fill="#ff7f0e" stroke="#fff" stroke-width="0.5"/>
<rect x="396.5" y="595.2" width="5.6" height="5.6" fill="#ff7f0e" stroke="#fff" stroke-width="0.5"/>
<rect x="485.4" y="564.8" width="5.6" height="5.6" fill="#ff7f0e" stroke="#fff" stroke-width="0.5"/>
<rect x="561.9" y="551.0" width="5.6" height="5.6" fill="#ff7f0e" stroke="#fff" stroke-width="0.5"/>
<path d="M357.7,603.1L364.1,609.5M357.7,609.5L364.1,603.1" stroke="#2ca02c" stroke-width="2.4"/>
<path d="M396.1,598.4L402.5,604.8M396.1,604.8L402.5,598.4" stroke="#2ca02c" stroke-width="2.4"/>
<path d="M485.0,588.8L491.4,595.2M485.0,595.2L491.4,588.8" stroke="#2ca02c" stroke-width="2.4"/>
<path d="M561.5,597.4L567.9,603.8M561.5,603.8L567.9,597.4" stroke="#2ca02c" stroke-width="2.4"/>
<path d="M356.6,579.6L365.2,579.6M360.9,575.3L360.9,583.9" stroke="#d62728" stroke-width="2.2"/>
<path d="M395.0,531.5L403.6,531.5M399.3,527.2L399.3,535.8" stroke="#d62728" stroke-width="2.2"/>
<path d="M483.9,599.0L492.5,599.0M488.2,594.7L488.2,603.3" stroke="#d62728" stroke-width="2.2"/>
<path d="M560.4,601.6L569.0,601.6M564.7,597.3L564.7,605.9" stroke="#d62728" stroke-width="2.2"/>
<path d="M350.8,442.5 L350.8,613.7 L574.4,613.7" fill="none" stroke="#1e1e1e" stroke-width="2.0"/>
<line x1="341.40000000000003" y1="451.1" x2="350.8" y2="451.1" stroke="#1e1e1e" stroke-width="1.7"/>
<line x1="341.40000000000003" y1="502.2" x2="350.8" y2="502.2" stroke="#1e1e1e" stroke-width="1.7"/>
<line x1="341.40000000000003" y1="553.8" x2="350.8" y2="553.8" stroke="#1e1e1e" stroke-width="1.7"/>
<line x1="341.40000000000003" y1="606" x2="350.8" y2="606" stroke="#1e1e1e" stroke-width="1.7"/>
<line x1="379.5" y1="613.7" x2="379.5" y2="622.8" stroke="#1e1e1e" stroke-width="1.7"/>
<line x1="443.6" y1="613.7" x2="443.6" y2="622.8" stroke="#1e1e1e" stroke-width="1.7"/>
<line x1="507.6" y1="613.7" x2="507.6" y2="622.8" stroke="#1e1e1e" stroke-width="1.7"/>
<line x1="570.8" y1="613.7" x2="570.8" y2="622.8" stroke="#1e1e1e" stroke-width="1.7"/>
<line x1="462.4" y1="444.2" x2="462.4" y2="613.5" stroke="#000" stroke-width="2.2" stroke-dasharray="8.4,4"/>
<text transform="translate(400.45,437.90) scale(1.1197,1)" font-size="19.03" font-weight="bold" fill="#000" >CeCfv-CeCc</text>
<text transform="translate(366.36,463.75) scale(1.0377,1)" font-size="19.79" font-weight="normal" fill="#262626" >Frontal</text>
<text transform="translate(506.99,458.40) scale(1.0390,1)" font-size="19.52" font-weight="normal" fill="#262626" >Caudal</text><polygon points="624.5,593.0 662.9,603.0 751.8,543.8 828.3,554.4 828.3,597.5 751.8,597.0 662.9,607.0 624.5,606.0" fill="#1f77b4" fill-opacity="0.2"/>
<polygon points="624.5,593.0 662.9,566.5 751.8,528.6 828.3,476.5 828.3,554.0 751.8,561.0 662.9,600.0 624.5,607.0" fill="#ff7f0e" fill-opacity="0.2"/>
<polygon points="624.5,476.0 662.9,461.0 751.8,586.0 828.3,581.2 828.3,597.5 751.8,604.5 662.9,515.9 624.5,539.8" fill="#2ca02c" fill-opacity="0.2"/>
<polygon points="624.5,593.0 662.9,584.0 751.8,567.5 828.3,567.5 828.3,605.0 751.8,606.0 662.9,607.0 624.5,607.0" fill="#d62728" fill-opacity="0.2"/>
<polyline points="624.5,601.0 662.9,606.4 751.8,571.2 828.3,587.8" fill="none" stroke="#1f77b4" stroke-width="2.3" />
<polyline points="624.5,605.8 662.9,592.6 751.8,545.0 828.3,519.7" fill="none" stroke="#ff7f0e" stroke-width="2.3" stroke-dasharray="2.3,2.3"/>
<polyline points="624.5,510.8 662.9,489.2 751.8,599.5 828.3,588.3" fill="none" stroke="#2ca02c" stroke-width="2.3" stroke-dasharray="9.2,3.45"/>
<polyline points="624.5,601.0 662.9,598.8 751.8,592.5 828.3,587.8" fill="none" stroke="#d62728" stroke-width="2.3" stroke-dasharray="6.9,2.9,3.45,2.9"/>
<circle cx="624.5" cy="601.0" r="4.2" fill="#1f77b4" stroke="#fff" stroke-width="0.6"/>
<circle cx="662.9" cy="606.4" r="4.2" fill="#1f77b4" stroke="#fff" stroke-width="0.6"/>
<circle cx="751.8" cy="571.2" r="4.2" fill="#1f77b4" stroke="#fff" stroke-width="0.6"/>
<circle cx="828.3" cy="587.8" r="4.2" fill="#1f77b4" stroke="#fff" stroke-width="0.6"/>
<rect x="621.7" y="603.0" width="5.6" height="5.6" fill="#ff7f0e" stroke="#fff" stroke-width="0.5"/>
<rect x="660.1" y="589.8" width="5.6" height="5.6" fill="#ff7f0e" stroke="#fff" stroke-width="0.5"/>
<rect x="749.0" y="542.2" width="5.6" height="5.6" fill="#ff7f0e" stroke="#fff" stroke-width="0.5"/>
<rect x="825.5" y="516.9" width="5.6" height="5.6" fill="#ff7f0e" stroke="#fff" stroke-width="0.5"/>
<path d="M621.3,507.6L627.7,514.0M621.3,514.0L627.7,507.6" stroke="#2ca02c" stroke-width="2.4"/>
<path d="M659.7,486.0L666.1,492.4M659.7,492.4L666.1,486.0" stroke="#2ca02c" stroke-width="2.4"/>
<path d="M748.6,596.3L755.0,602.7M748.6,602.7L755.0,596.3" stroke="#2ca02c" stroke-width="2.4"/>
<path d="M825.1,585.1L831.5,591.5M825.1,591.5L831.5,585.1" stroke="#2ca02c" stroke-width="2.4"/>
<path d="M620.2,601.0L628.8,601.0M624.5,596.7L624.5,605.3" stroke="#d62728" stroke-width="2.2"/>
<path d="M658.6,598.8L667.2,598.8M662.9,594.5L662.9,603.1" stroke="#d62728" stroke-width="2.2"/>
<path d="M747.5,592.5L756.1,592.5M751.8,588.2L751.8,596.8" stroke="#d62728" stroke-width="2.2"/>
<path d="M824.0,587.8L832.6,587.8M828.3,583.5L828.3,592.1" stroke="#d62728" stroke-width="2.2"/>
<path d="M614.4,442.5 L614.4,613.7 L838.0,613.7" fill="none" stroke="#1e1e1e" stroke-width="2.0"/>
<line x1="605.0" y1="451.1" x2="614.4" y2="451.1" stroke="#1e1e1e" stroke-width="1.7"/>
<line x1="605.0" y1="502.2" x2="614.4" y2="502.2" stroke="#1e1e1e" stroke-width="1.7"/>
<line x1="605.0" y1="553.8" x2="614.4" y2="553.8" stroke="#1e1e1e" stroke-width="1.7"/>
<line x1="605.0" y1="606" x2="614.4" y2="606" stroke="#1e1e1e" stroke-width="1.7"/>
<line x1="643.1" y1="613.7" x2="643.1" y2="622.8" stroke="#1e1e1e" stroke-width="1.7"/>
<line x1="707.1999999999999" y1="613.7" x2="707.1999999999999" y2="622.8" stroke="#1e1e1e" stroke-width="1.7"/>
<line x1="771.2" y1="613.7" x2="771.2" y2="622.8" stroke="#1e1e1e" stroke-width="1.7"/>
<line x1="834.4" y1="613.7" x2="834.4" y2="622.8" stroke="#1e1e1e" stroke-width="1.7"/>
<line x1="726.6" y1="444.2" x2="726.6" y2="613.5" stroke="#000" stroke-width="2.2" stroke-dasharray="8.4,4"/>
<text transform="translate(705.76,437.90) scale(1.0702,1)" font-size="19.71" font-weight="bold" fill="#000" >CeL</text>
<text transform="translate(629.96,463.75) scale(1.0377,1)" font-size="19.79" font-weight="normal" fill="#262626" >Frontal</text>
<text transform="translate(770.59,458.40) scale(1.0390,1)" font-size="19.52" font-weight="normal" fill="#262626" >Caudal</text><polygon points="888.0,580.0 926.4,593.0 1015.3,600.0 1091.8,580.0 1091.8,604.0 1015.3,607.0 926.4,606.0 888.0,604.0" fill="#1f77b4" fill-opacity="0.2"/>
<polygon points="888.0,598.0 926.4,600.0 1015.3,592.0 1091.8,592.0 1091.8,603.0 1015.3,603.0 926.4,607.0 888.0,606.0" fill="#ff7f0e" fill-opacity="0.2"/>
<polygon points="888.0,605.0 926.4,603.0 1015.3,603.0 1091.8,600.0 1091.8,606.0 1015.3,607.0 926.4,607.0 888.0,609.0" fill="#2ca02c" fill-opacity="0.2"/>
<polygon points="888.0,596.0 926.4,602.0 1015.3,602.0 1091.8,580.0 1091.8,606.0 1015.3,607.0 926.4,607.0 888.0,606.0" fill="#d62728" fill-opacity="0.2"/>
<polyline points="888.0,592.7 926.4,600.4 1015.3,604.0 1091.8,592.3" fill="none" stroke="#1f77b4" stroke-width="2.3" />
<polyline points="888.0,602.0 926.4,604.0 1015.3,597.4 1091.8,597.0" fill="none" stroke="#ff7f0e" stroke-width="2.3" stroke-dasharray="2.3,2.3"/>
<polyline points="888.0,607.6 926.4,605.0 1015.3,605.0 1091.8,603.0" fill="none" stroke="#2ca02c" stroke-width="2.3" stroke-dasharray="9.2,3.45"/>
<polyline points="888.0,601.7 926.4,605.8 1015.3,605.8 1091.8,597.4" fill="none" stroke="#d62728" stroke-width="2.3" stroke-dasharray="6.9,2.9,3.45,2.9"/>
<circle cx="888.0" cy="592.7" r="4.2" fill="#1f77b4" stroke="#fff" stroke-width="0.6"/>
<circle cx="926.4" cy="600.4" r="4.2" fill="#1f77b4" stroke="#fff" stroke-width="0.6"/>
<circle cx="1015.3" cy="604.0" r="4.2" fill="#1f77b4" stroke="#fff" stroke-width="0.6"/>
<circle cx="1091.8" cy="592.3" r="4.2" fill="#1f77b4" stroke="#fff" stroke-width="0.6"/>
<rect x="885.2" y="599.2" width="5.6" height="5.6" fill="#ff7f0e" stroke="#fff" stroke-width="0.5"/>
<rect x="923.6" y="601.2" width="5.6" height="5.6" fill="#ff7f0e" stroke="#fff" stroke-width="0.5"/>
<rect x="1012.5" y="594.6" width="5.6" height="5.6" fill="#ff7f0e" stroke="#fff" stroke-width="0.5"/>
<rect x="1089.0" y="594.2" width="5.6" height="5.6" fill="#ff7f0e" stroke="#fff" stroke-width="0.5"/>
<path d="M884.8,604.4L891.2,610.8M884.8,610.8L891.2,604.4" stroke="#2ca02c" stroke-width="2.4"/>
<path d="M923.2,601.8L929.6,608.2M923.2,608.2L929.6,601.8" stroke="#2ca02c" stroke-width="2.4"/>
<path d="M1012.1,601.8L1018.5,608.2M1012.1,608.2L1018.5,601.8" stroke="#2ca02c" stroke-width="2.4"/>
<path d="M1088.6,599.8L1095.0,606.2M1088.6,606.2L1095.0,599.8" stroke="#2ca02c" stroke-width="2.4"/>
<path d="M883.7,601.7L892.3,601.7M888.0,597.4L888.0,606.0" stroke="#d62728" stroke-width="2.2"/>
<path d="M922.1,605.8L930.7,605.8M926.4,601.5L926.4,610.1" stroke="#d62728" stroke-width="2.2"/>
<path d="M1011.0,605.8L1019.6,605.8M1015.3,601.5L1015.3,610.1" stroke="#d62728" stroke-width="2.2"/>
<path d="M1087.5,597.4L1096.1,597.4M1091.8,593.1L1091.8,601.7" stroke="#d62728" stroke-width="2.2"/>
<path d="M877.9,442.5 L877.9,613.7 L1101.5,613.7" fill="none" stroke="#1e1e1e" stroke-width="2.0"/>
<line x1="868.5" y1="451.1" x2="877.9" y2="451.1" stroke="#1e1e1e" stroke-width="1.7"/>
<line x1="868.5" y1="502.2" x2="877.9" y2="502.2" stroke="#1e1e1e" stroke-width="1.7"/>
<line x1="868.5" y1="553.8" x2="877.9" y2="553.8" stroke="#1e1e1e" stroke-width="1.7"/>
<line x1="868.5" y1="606" x2="877.9" y2="606" stroke="#1e1e1e" stroke-width="1.7"/>
<line x1="906.6" y1="613.7" x2="906.6" y2="622.8" stroke="#1e1e1e" stroke-width="1.7"/>
<line x1="970.6999999999999" y1="613.7" x2="970.6999999999999" y2="622.8" stroke="#1e1e1e" stroke-width="1.7"/>
<line x1="1034.7" y1="613.7" x2="1034.7" y2="622.8" stroke="#1e1e1e" stroke-width="1.7"/>
<line x1="1097.9" y1="613.7" x2="1097.9" y2="622.8" stroke="#1e1e1e" stroke-width="1.7"/>
<line x1="990.2" y1="444.2" x2="990.2" y2="613.5" stroke="#000" stroke-width="2.2" stroke-dasharray="8.4,4"/>
<text transform="translate(966.43,437.90) scale(1.1081,1)" font-size="19.71" font-weight="bold" fill="#000" >CeM</text>
<text transform="translate(893.46,463.75) scale(1.0377,1)" font-size="19.79" font-weight="normal" fill="#262626" >Frontal</text>
<text transform="translate(1034.09,458.40) scale(1.0390,1)" font-size="19.52" font-weight="normal" fill="#262626" >Caudal</text>
</svg>
</body></html>
